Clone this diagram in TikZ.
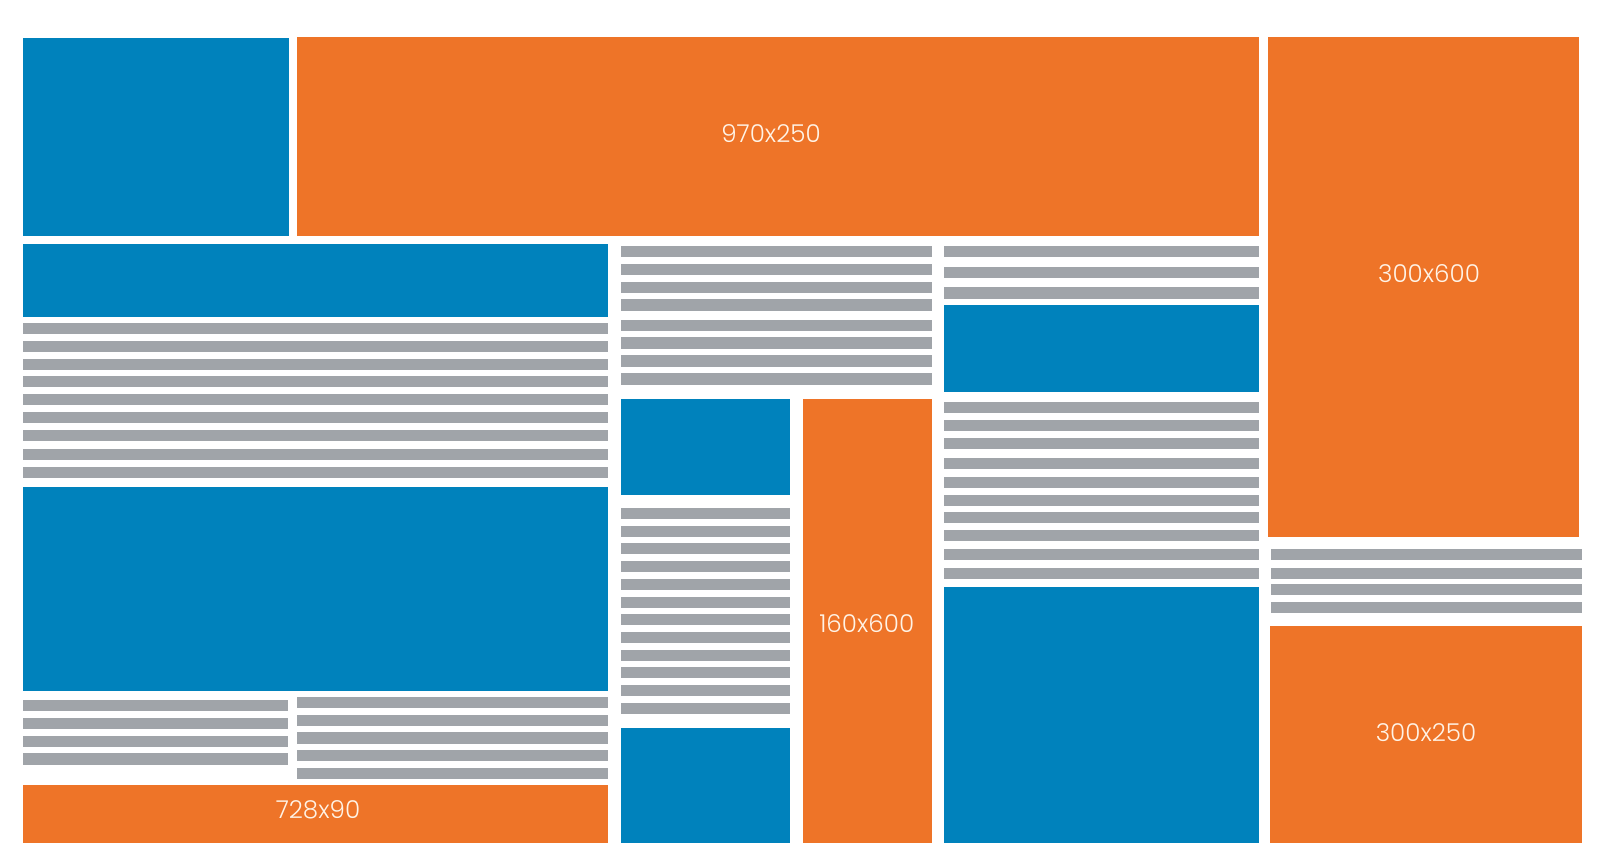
\documentclass[tikz,border=0pt]{standalone}
\usepackage{fontspec}
\setmainfont{Poppins Light}
\definecolor{adblue}{RGB}{0,130,188}
\definecolor{adorange}{RGB}{238,116,40}
\definecolor{adgray}{RGB}{160,164,169}
\definecolor{adtext}{RGB}{255,243,230}
\begin{document}
\begin{tikzpicture}[x=0.5pt,y=-0.5pt,
  bluebox/.style={fill=adblue},
  orangebox/.style={fill=adorange},
  graybar/.style={fill=adgray},
  adlabel/.style={text=adtext,font=\fontsize{12.3}{14}\selectfont,inner sep=0pt,anchor=center}]
\useasboundingbox[fill=white] (0,0) rectangle (1600,864);
% blue blocks
\fill[bluebox] (22.5,38) rectangle (288.6,235.7);
\fill[bluebox] (22.9,244) rectangle (608,316.7);
\fill[bluebox] (22.9,486.7) rectangle (608,690.7);
\fill[bluebox] (620.7,399.3) rectangle (790.3,495);
\fill[bluebox] (620.7,727.5) rectangle (790.3,843);
\fill[bluebox] (943.5,305.3) rectangle (1259,391.7);
\fill[bluebox] (943.5,586.7) rectangle (1259,843);
% orange ad blocks
\fill[orangebox] (297.3,37) rectangle (1259,235.7);
\fill[orangebox] (1268.3,37.3) rectangle (1579,536.7);
\fill[orangebox] (802.7,399.3) rectangle (931.7,843);
\fill[orangebox] (1270,626) rectangle (1582,843);
\fill[orangebox] (22.9,785.3) rectangle (608,843);
% gray text lines
\foreach \y in {323.3,341,358.7,376.3,394,412,429.7,449,467.3}
  \fill[graybar] (22.9,\y) rectangle (608,\y+11);
\foreach \y in {246,264,281.7,299.3,320,337.3,355.3,373.3}
  \fill[graybar] (620.7,\y) rectangle (931.7,\y+11.3);
\foreach \y in {246,266.7,287.3}
  \fill[graybar] (943.5,\y) rectangle (1259,\y+11.3);
\foreach \y in {402.3,420.3,438.3,458,476.7,494.7,512.3,530,549.3,567.7}
  \fill[graybar] (943.5,\y) rectangle (1259,\y+11);
\foreach \y in {508,525.7,543.3,561,579,596.7,614.3,632,649.7,667.3,685,702.7}
  \fill[graybar] (620.7,\y) rectangle (790.3,\y+11);
\foreach \y in {700,718,735.7,753.3}
  \fill[graybar] (22.9,\y) rectangle (288.3,\y+11.3);
\foreach \y in {697,714.7,732.3,750,767.7}
  \fill[graybar] (297.3,\y) rectangle (608,\y+11.3);
\foreach \y in {549,568.3,584.3,602.3}
  \fill[graybar] (1271,\y) rectangle (1582.3,\y+11);
% labels
\node[adlabel] (l970) at (771,134) {970x250};
\node[adlabel] (l300a) at (1429,274) {300x600};
\node[adlabel] (l300b) at (1426,733) {300x250};
\node[adlabel] (l160) at (866.7,623.5) {160x600};
\node[adlabel] (l728) at (318,810) {728x90};
\end{tikzpicture}
\end{document}
